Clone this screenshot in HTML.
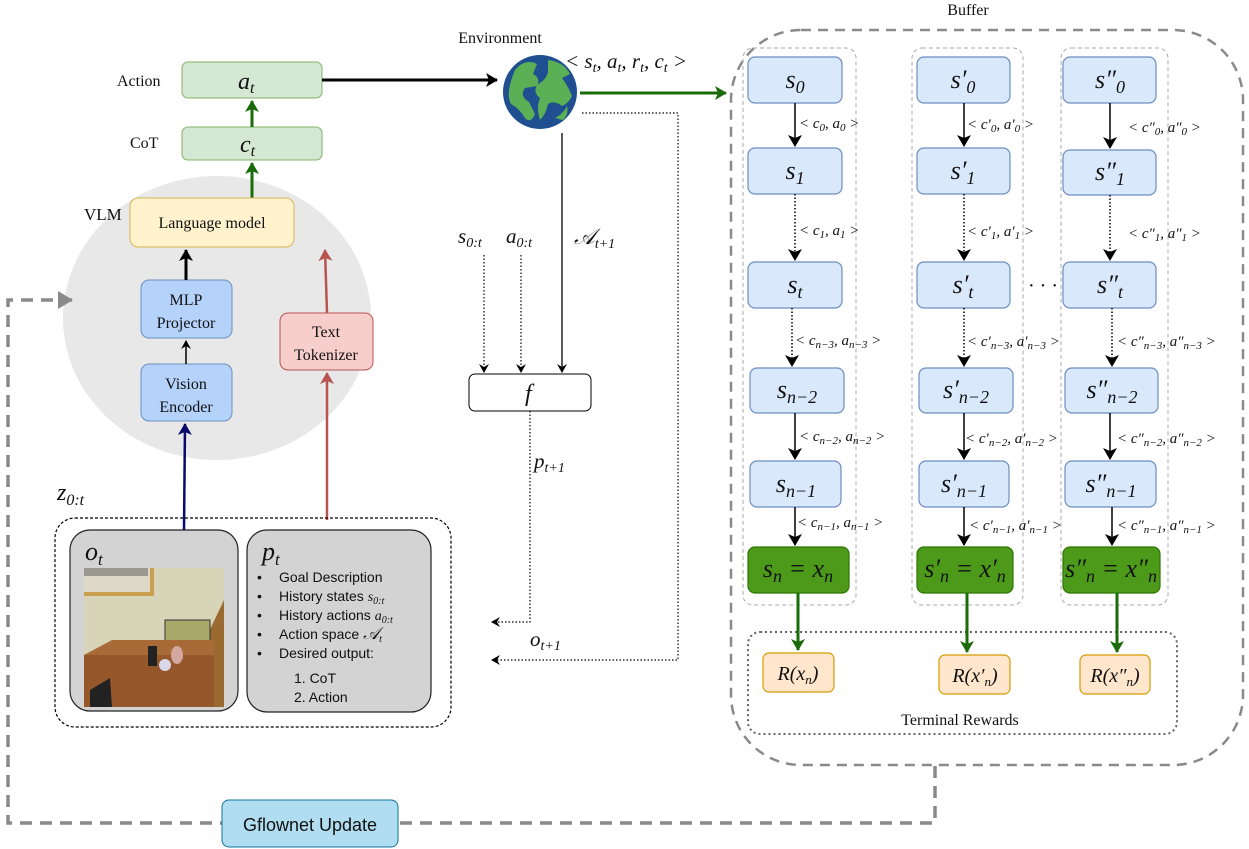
<!DOCTYPE html>
<html><head><meta charset="utf-8"><style>
body{margin:0;background:#fff;}
svg{display:block;font-family:"Liberation Serif",serif;}
.m{font-style:italic;font-size:15px;fill:#111}
.n{font-style:italic;font-size:26px;fill:#111}
.sb{font-size:11px;font-style:italic}
.nsb{font-size:18px}
.r{font-size:16px;fill:#111}
.sans{font-family:"Liberation Sans",sans-serif;font-size:14px;fill:#111}
</style></head><body>
<svg width="1249" height="849" viewBox="0 0 1249 849" xmlns="http://www.w3.org/2000/svg">
<defs>
<marker id="ab" markerWidth="10" markerHeight="10" refX="8" refY="5" orient="auto" markerUnits="userSpaceOnUse"><path d="M0,0 L9,5 L0,10 L3,5z" fill="#000"/></marker>
<marker id="ag" markerWidth="14" markerHeight="14" refX="11" refY="7" orient="auto" markerUnits="userSpaceOnUse"><path d="M0,0 L12,7 L0,14 L3,7z" fill="#1a6b0a"/></marker>
<marker id="ar" markerWidth="14" markerHeight="14" refX="11" refY="7" orient="auto" markerUnits="userSpaceOnUse"><path d="M0,0 L12,7 L0,14 L3,7z" fill="#b85450"/></marker>
<marker id="an" markerWidth="14" markerHeight="14" refX="11" refY="7" orient="auto" markerUnits="userSpaceOnUse"><path d="M0,0 L12,7 L0,14 L3,7z" fill="#0a0a6b"/></marker>
<marker id="ak" markerWidth="14" markerHeight="14" refX="11" refY="7" orient="auto" markerUnits="userSpaceOnUse"><path d="M0,0 L12,7 L0,14 L3,7z" fill="#000"/></marker>
<marker id="agr" markerWidth="18" markerHeight="18" refX="14" refY="9" orient="auto" markerUnits="userSpaceOnUse"><path d="M0,0 L15,9 L0,18 z" fill="#8a8a8a"/></marker>
</defs>

<ellipse cx="217" cy="318" rx="154" ry="142" fill="#e8e8e8"/>
<text x="84" y="220" class="r" style="font-size:17px">VLM</text>

<text x="117" y="86" class="r">Action</text>
<rect x="182" y="62" width="140" height="36" rx="6" fill="#d5e8d4" stroke="#82b366"/>
<text x="238" y="89" class="n" style="font-size:24px">a<tspan class="sb" style="font-size:16px" dy="4">t</tspan></text>
<text x="130" y="148" class="r">CoT</text>
<rect x="182" y="127" width="140" height="33" rx="6" fill="#d5e8d4" stroke="#82b366"/>
<text x="240" y="152" class="n" style="font-size:24px">c<tspan class="sb" style="font-size:16px" dy="4">t</tspan></text>
<line x1="252" y1="127" x2="252" y2="101" stroke="#1a6b0a" stroke-width="3" marker-end="url(#ag)"/>
<line x1="252" y1="198" x2="252" y2="163" stroke="#1a6b0a" stroke-width="3" marker-end="url(#ag)"/>

<rect x="130" y="198" width="164" height="49" rx="8" fill="#fff2cc" stroke="#d6b656"/>
<text x="212" y="228" class="r" text-anchor="middle">Language model</text>
<rect x="141" y="280" width="91" height="58" rx="8" fill="#b5d2fb" stroke="#6c8ebf"/>
<text x="186" y="305" class="r" text-anchor="middle">MLP</text>
<text x="186" y="328" class="r" text-anchor="middle">Projector</text>
<rect x="141" y="364" width="91" height="57" rx="8" fill="#b5d2fb" stroke="#6c8ebf"/>
<text x="186" y="389" class="r" text-anchor="middle">Vision</text>
<text x="186" y="412" class="r" text-anchor="middle">Encoder</text>
<rect x="280" y="313" width="93" height="57" rx="8" fill="#f8cecc" stroke="#b85450"/>
<text x="326" y="337" class="r" text-anchor="middle">Text</text>
<text x="326" y="360" class="r" text-anchor="middle">Tokenizer</text>
<line x1="186" y1="280" x2="186" y2="250" stroke="#000" stroke-width="3" marker-end="url(#ak)"/>
<line x1="186" y1="364" x2="186" y2="341" stroke="#000" stroke-width="1.5" marker-end="url(#ab)"/>
<line x1="327" y1="313" x2="325" y2="250" stroke="#b85450" stroke-width="2.5" marker-end="url(#ar)"/>
<line x1="327" y1="520" x2="327" y2="373" stroke="#b85450" stroke-width="2.5" marker-end="url(#ar)"/>
<line x1="184" y1="530" x2="185" y2="424" stroke="#0a0a6b" stroke-width="2.5" marker-end="url(#an)"/>

<text x="500" y="43" class="r" text-anchor="middle">Environment</text>
<circle cx="540" cy="92" r="37" fill="#1f4f91"/>
<path d="M515,70 q10,-12 22,-6 l-4,10 q8,4 4,12 l-12,2 q-6,8 4,14 l6,12 q-4,10 -10,4 q-6,-10 -14,-14 q-6,-10 4,-34z" fill="#5bb055"/>
<path d="M548,60 q16,2 22,14 l-8,4 q6,8 10,18 q-4,8 -10,10 q-8,-6 -14,-2 q-2,10 -8,16 q-4,-12 0,-22 q-8,-6 -2,-14 q8,-4 10,-12 z" fill="#5bb055"/>
<path d="M555,118 q8,-4 12,-12 q2,8 -4,14z" fill="#5bb055"/>
<text x="565" y="68" class="m" style="font-size:21px">&lt; s<tspan class="sb" style="font-size:14px" dy="4">t</tspan><tspan dy="-4">, a</tspan><tspan class="sb" style="font-size:14px" dy="4">t</tspan><tspan dy="-4">, r</tspan><tspan class="sb" style="font-size:14px" dy="4">t</tspan><tspan dy="-4">, c</tspan><tspan class="sb" style="font-size:14px" dy="4">t</tspan><tspan dy="-4"> &gt;</tspan></text>
<line x1="322" y1="80" x2="497" y2="80" stroke="#000" stroke-width="3" marker-end="url(#ak)"/>
<line x1="580" y1="93" x2="726" y2="93" stroke="#1a6b0a" stroke-width="3" marker-end="url(#ag)"/>
<polyline points="582,113 678,113 678,660 492,660" fill="none" stroke="#000" stroke-width="1.2" stroke-dasharray="1.5,2" marker-end="url(#ab)"/>
<text x="530" y="646" class="m" style="font-size:21px">o<tspan class="sb" style="font-size:14px" dy="4">t+1</tspan></text>
<line x1="562" y1="133" x2="562" y2="372" stroke="#000" stroke-width="1.3" marker-end="url(#ab)"/>
<text x="574" y="244" class="m" style="font-size:22px">𝒜<tspan class="sb" style="font-size:14px" dy="4">t+1</tspan></text>
<text x="458" y="243" class="m" style="font-size:21px">s<tspan class="sb" style="font-size:14px" dy="4">0:t</tspan></text>
<text x="506" y="243" class="m" style="font-size:21px">a<tspan class="sb" style="font-size:14px" dy="4">0:t</tspan></text>
<line x1="484" y1="255" x2="484" y2="372" stroke="#000" stroke-width="1.2" stroke-dasharray="1.5,2" marker-end="url(#ab)"/>
<line x1="521" y1="255" x2="521" y2="372" stroke="#000" stroke-width="1.2" stroke-dasharray="1.5,2" marker-end="url(#ab)"/>
<rect x="469" y="374" width="122" height="37" rx="6" fill="#fff" stroke="#000"/>
<text x="525" y="401" class="m" style="font-size:24px">f</text>
<polyline points="530,411 530,622 492,622" fill="none" stroke="#000" stroke-width="1.2" stroke-dasharray="1.5,2" marker-end="url(#ab)"/>
<text x="534" y="468" class="m" style="font-size:21px">p<tspan class="sb" style="font-size:14px" dy="4">t+1</tspan></text>

<text x="57" y="500" class="m" style="font-size:24px">z<tspan class="sb" style="font-size:16px" dy="5">0:t</tspan></text>
<rect x="55" y="518" width="396" height="209" rx="20" fill="none" stroke="#000" stroke-width="1.2" stroke-dasharray="3,2"/>
<rect x="70" y="530" width="168" height="181" rx="20" fill="#d3d3d3" stroke="#222" stroke-width="1.2"/>
<text x="85" y="560" class="m" style="font-size:26px">o<tspan class="sb" style="font-size:17px" dy="5">t</tspan></text>
<g>
<rect x="84" y="568" width="140" height="139" fill="#d8d4b8"/>
<rect x="84" y="568" width="70" height="28" fill="#c8a050"/>
<rect x="84" y="568" width="66" height="24" fill="#ddd8c8"/>
<rect x="84" y="568" width="64" height="8" fill="#9a9a90"/>
<polygon points="205,640 224,600 224,707 200,707" fill="#9a6a30"/>
<rect x="165" y="620" width="45" height="22" fill="#a8a868" stroke="#333"/>
<rect x="84" y="655" width="130" height="52" fill="#96582a"/>
<polygon points="84,655 112,640 214,640 214,655" fill="#a86a36"/>
<ellipse cx="177" cy="655" rx="6" ry="9" fill="#d4a8a0"/>
<rect x="148" y="646" width="9" height="20" fill="#222"/>
<polygon points="90,690 110,678 112,707 90,707" fill="#222"/>
<circle cx="165" cy="665" r="6" fill="#d8d8e8"/>
</g>
<rect x="247" y="530" width="184" height="182" rx="20" fill="#d3d3d3" stroke="#222" stroke-width="1.2"/>
<text x="262" y="560" class="m" style="font-size:26px">p<tspan class="sb" style="font-size:17px" dy="5">t</tspan></text>
<g class="sans">
<text x="257" y="582">•</text><text x="279" y="582">Goal Description</text>
<text x="257" y="601">•</text><text x="279" y="601">History states  <tspan font-family="Liberation Serif" font-style="italic">s<tspan style="font-size:10px" dy="3">0:t</tspan></tspan></text>
<text x="257" y="620">•</text><text x="279" y="620">History actions <tspan font-family="Liberation Serif" font-style="italic">a<tspan style="font-size:10px" dy="3">0:t</tspan></tspan></text>
<text x="257" y="639">•</text><text x="279" y="639">Action space  <tspan font-family="Liberation Serif" font-style="italic" style="font-size:17px">𝒜<tspan style="font-size:10px" dy="3">t</tspan></tspan></text>
<text x="257" y="658">•</text><text x="279" y="658">Desired output:</text>
<text x="294" y="683">1. CoT</text>
<text x="294" y="702">2. Action</text>
</g>

<polyline points="935,766 935,823 8,823 8,300 72,300" fill="none" stroke="#8a8a8a" stroke-width="3.5" stroke-dasharray="12,8" marker-end="url(#agr)"/>
<rect x="222" y="800" width="176" height="47" rx="7" fill="#b1ddf0" stroke="#10739e"/>
<text x="310" y="831" class="sans" style="font-size:18px" text-anchor="middle">Gflownet Update</text>

<text x="968" y="15" class="r" text-anchor="middle">Buffer</text>
<rect x="731" y="30" width="512" height="735" rx="70" fill="none" stroke="#8a8a8a" stroke-width="2.5" stroke-dasharray="10,7"/>
<g fill="none" stroke="#aaa" stroke-width="1" stroke-dasharray="4,3">
<rect x="743" y="48" width="113" height="557" rx="10"/>
<rect x="912" y="48" width="111" height="557" rx="10"/>
<rect x="1061" y="48" width="107" height="557" rx="10"/>
</g>
<rect x="748" y="632" width="429" height="102" rx="12" fill="none" stroke="#666" stroke-width="2" stroke-dasharray="2,3"/>
<text x="960" y="725" class="r" text-anchor="middle">Terminal Rewards</text>

<g fill="#dae8fc" stroke="#6c8ebf" stroke-width="1.2">
<rect x="748" y="57" width="94" height="46" rx="7"/><rect x="748" y="148" width="94" height="46" rx="7"/><rect x="748" y="262" width="94" height="46" rx="7"/><rect x="750" y="368" width="94" height="45" rx="7"/><rect x="750" y="461" width="91" height="46" rx="7"/>
<rect x="917" y="57" width="93" height="46" rx="7"/><rect x="917" y="148" width="93" height="46" rx="7"/><rect x="917" y="262" width="93" height="46" rx="7"/><rect x="919" y="368" width="94" height="45" rx="7"/><rect x="919" y="461" width="90" height="46" rx="7"/>
<rect x="1063" y="57" width="93" height="46" rx="7"/><rect x="1063" y="150" width="93" height="45" rx="7"/><rect x="1063" y="262" width="93" height="46" rx="7"/><rect x="1065" y="368" width="93" height="45" rx="7"/><rect x="1065" y="461" width="91" height="46" rx="7"/>
</g>
<g fill="#4d9a1a" stroke="#2d7600" stroke-width="1.2">
<rect x="748" y="547" width="101" height="46" rx="7"/><rect x="917" y="547" width="96" height="46" rx="7"/><rect x="1063" y="547" width="97" height="46" rx="7"/>
</g>
<g fill="#ffe6cc" stroke="#d79b00" stroke-width="1.2">
<rect x="763" y="653" width="71" height="39" rx="6"/><rect x="939" y="655" width="71" height="39" rx="6"/><rect x="1080" y="655" width="70" height="39" rx="6"/>
</g>

<g class="n" text-anchor="middle">
<text x="795" y="88">s<tspan class="nsb" dy="5">0</tspan></text>
<text x="795" y="179">s<tspan class="nsb" dy="5">1</tspan></text>
<text x="795" y="293">s<tspan class="nsb" dy="5">t</tspan></text>
<text x="797" y="398">s<tspan class="nsb" dy="5">n−2</tspan></text>
<text x="796" y="492">s<tspan class="nsb" dy="5">n−1</tspan></text>
<text x="963" y="88">s′<tspan class="nsb" dy="5">0</tspan></text>
<text x="963" y="179">s′<tspan class="nsb" dy="5">1</tspan></text>
<text x="963" y="293">s′<tspan class="nsb" dy="5">t</tspan></text>
<text x="966" y="398">s′<tspan class="nsb" dy="5">n−2</tspan></text>
<text x="964" y="492">s′<tspan class="nsb" dy="5">n−1</tspan></text>
<text x="1110" y="88">s″<tspan class="nsb" dy="5">0</tspan></text>
<text x="1110" y="180">s″<tspan class="nsb" dy="5">1</tspan></text>
<text x="1110" y="293">s″<tspan class="nsb" dy="5">t</tspan></text>
<text x="1112" y="398">s″<tspan class="nsb" dy="5">n−2</tspan></text>
<text x="1111" y="492">s″<tspan class="nsb" dy="5">n−1</tspan></text>
<text x="798" y="577">s<tspan class="nsb" dy="5">n</tspan><tspan dy="-5"> = x</tspan><tspan class="nsb" dy="5">n</tspan></text>
<text x="965" y="577">s′<tspan class="nsb" dy="5">n</tspan><tspan dy="-5"> = x′</tspan><tspan class="nsb" dy="5">n</tspan></text>
<text x="1111" y="577">s″<tspan class="nsb" dy="5">n</tspan><tspan dy="-5"> = x″</tspan><tspan class="nsb" dy="5">n</tspan></text>
</g>
<g text-anchor="middle">
<text x="798" y="680" class="m" style="font-size:20px">R(x<tspan class="sb" style="font-size:13px" dy="4">n</tspan><tspan dy="-4">)</tspan></text>
<text x="975" y="682" class="m" style="font-size:20px">R(x′<tspan class="sb" style="font-size:13px" dy="4">n</tspan><tspan dy="-4">)</tspan></text>
<text x="1115" y="682" class="m" style="font-size:20px">R(x″<tspan class="sb" style="font-size:13px" dy="4">n</tspan><tspan dy="-4">)</tspan></text>
</g>

<g stroke="#000" stroke-width="1.5">
<line x1="795" y1="103" x2="795" y2="146" marker-end="url(#ak)"/>
<line x1="795" y1="194" x2="795" y2="260" stroke-dasharray="1.5,2" marker-end="url(#ak)"/>
<line x1="792" y1="308" x2="792" y2="366" stroke-dasharray="1.5,2" marker-end="url(#ak)"/>
<line x1="795" y1="413" x2="795" y2="459" marker-end="url(#ak)"/>
<line x1="795" y1="507" x2="795" y2="545" marker-end="url(#ak)"/>
<line x1="964" y1="103" x2="964" y2="146" marker-end="url(#ak)"/>
<line x1="964" y1="194" x2="964" y2="260" stroke-dasharray="1.5,2" marker-end="url(#ak)"/>
<line x1="964" y1="308" x2="964" y2="366" stroke-dasharray="1.5,2" marker-end="url(#ak)"/>
<line x1="964" y1="413" x2="964" y2="459" marker-end="url(#ak)"/>
<line x1="964" y1="507" x2="964" y2="545" marker-end="url(#ak)"/>
<line x1="1110" y1="103" x2="1110" y2="148" marker-end="url(#ak)"/>
<line x1="1110" y1="195" x2="1110" y2="260" stroke-dasharray="1.5,2" marker-end="url(#ak)"/>
<line x1="1112" y1="308" x2="1112" y2="366" stroke-dasharray="1.5,2" marker-end="url(#ak)"/>
<line x1="1110" y1="413" x2="1110" y2="459" marker-end="url(#ak)"/>
<line x1="1112" y1="507" x2="1112" y2="545" marker-end="url(#ak)"/>
</g>
<g stroke="#1a6b0a" stroke-width="3">
<line x1="798" y1="593" x2="798" y2="650" marker-end="url(#ag)"/>
<line x1="967" y1="593" x2="967" y2="652" marker-end="url(#ag)"/>
<line x1="1117" y1="593" x2="1117" y2="652" marker-end="url(#ag)"/>
</g>
<text x="1028" y="292" style="font-size:20px" fill="#000">· · ·</text>

<g class="m">
<text x="799" y="128">&lt; c<tspan class="sb" dy="3">0</tspan><tspan dy="-3">, a</tspan><tspan class="sb" dy="3">0</tspan><tspan dy="-3"> &gt;</tspan></text>
<text x="799" y="235">&lt; c<tspan class="sb" dy="3">1</tspan><tspan dy="-3">, a</tspan><tspan class="sb" dy="3">1</tspan><tspan dy="-3"> &gt;</tspan></text>
<text x="795" y="345">&lt; c<tspan class="sb" dy="3">n−3</tspan><tspan dy="-3">, a</tspan><tspan class="sb" dy="3">n−3</tspan><tspan dy="-3"> &gt;</tspan></text>
<text x="799" y="441">&lt; c<tspan class="sb" dy="3">n−2</tspan><tspan dy="-3">, a</tspan><tspan class="sb" dy="3">n−2</tspan><tspan dy="-3"> &gt;</tspan></text>
<text x="797" y="527">&lt; c<tspan class="sb" dy="3">n−1</tspan><tspan dy="-3">, a</tspan><tspan class="sb" dy="3">n−1</tspan><tspan dy="-3"> &gt;</tspan></text>
<text x="967" y="129">&lt; c′<tspan class="sb" dy="3">0</tspan><tspan dy="-3">, a′</tspan><tspan class="sb" dy="3">0</tspan><tspan dy="-3"> &gt;</tspan></text>
<text x="967" y="236">&lt; c′<tspan class="sb" dy="3">1</tspan><tspan dy="-3">, a′</tspan><tspan class="sb" dy="3">1</tspan><tspan dy="-3"> &gt;</tspan></text>
<text x="967" y="346">&lt; c′<tspan class="sb" dy="3">n−3</tspan><tspan dy="-3">, a′</tspan><tspan class="sb" dy="3">n−3</tspan><tspan dy="-3"> &gt;</tspan></text>
<text x="965" y="443">&lt; c′<tspan class="sb" dy="3">n−2</tspan><tspan dy="-3">, a′</tspan><tspan class="sb" dy="3">n−2</tspan><tspan dy="-3"> &gt;</tspan></text>
<text x="969" y="530">&lt; c′<tspan class="sb" dy="3">n−1</tspan><tspan dy="-3">, a′</tspan><tspan class="sb" dy="3">n−1</tspan><tspan dy="-3"> &gt;</tspan></text>
<text x="1128" y="132">&lt; c″<tspan class="sb" dy="3">0</tspan><tspan dy="-3">, a″</tspan><tspan class="sb" dy="3">0</tspan><tspan dy="-3"> &gt;</tspan></text>
<text x="1128" y="238">&lt; c″<tspan class="sb" dy="3">1</tspan><tspan dy="-3">, a″</tspan><tspan class="sb" dy="3">1</tspan><tspan dy="-3"> &gt;</tspan></text>
<text x="1117" y="346">&lt; c″<tspan class="sb" dy="3">n−3</tspan><tspan dy="-3">, a″</tspan><tspan class="sb" dy="3">n−3</tspan><tspan dy="-3"> &gt;</tspan></text>
<text x="1117" y="443">&lt; c″<tspan class="sb" dy="3">n−2</tspan><tspan dy="-3">, a″</tspan><tspan class="sb" dy="3">n−2</tspan><tspan dy="-3"> &gt;</tspan></text>
<text x="1117" y="530">&lt; c″<tspan class="sb" dy="3">n−1</tspan><tspan dy="-3">, a″</tspan><tspan class="sb" dy="3">n−1</tspan><tspan dy="-3"> &gt;</tspan></text>
</g>
</svg>
</body></html>
